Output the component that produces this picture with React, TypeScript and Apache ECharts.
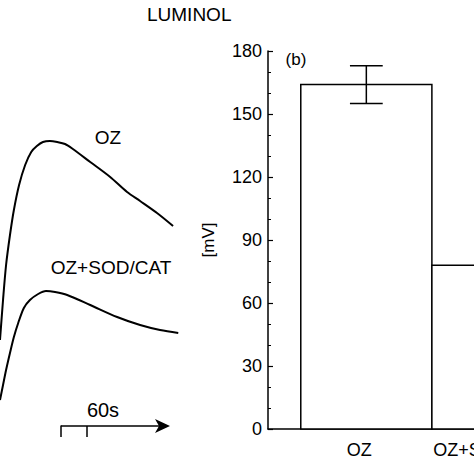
import React, { useEffect, useRef } from "react";
import * as echarts from "echarts";

// Bar panel (b)
const barCategories = ["OZ", "OZ+SOD/CAT"];
const barPositions = [1, 2];
const barValues = [164, 78];
const barErrors = [9, 6];
const yTicks = { min: 0, max: 180, step: 30 };

// Luminol traces (time in s, signal in arbitrary units)
const ozTime = [0, 7, 14, 23, 32, 44, 58, 72, 85, 99, 115, 132, 150, 168, 208, 254, 293, 323, 362, 399];
const ozSignal = [134, 174, 209, 239, 264, 289, 309, 322, 328, 332, 333, 332, 330, 325, 312, 297, 282, 273, 261, 248];
const sodTime = [0, 7, 14, 23, 32, 42, 55, 69, 88, 106, 127, 155, 208, 270, 323, 369, 411];
const sodSignal = [74, 89, 104, 121, 137, 151, 166, 174, 180, 183, 182, 179, 169, 157, 149, 144, 141];

const FONT = "'Liberation Sans', Arial, Helvetica, sans-serif";

export default function App() {
  const ref = useRef<HTMLDivElement>(null);
  useEffect(() => {
    if (!ref.current) return;
    const chart = echarts.init(ref.current, null, { renderer: "svg" });
    const barData = barPositions.map((x, i) => [x, barValues[i], barErrors[i]]);
    const labelMap: Record<string, string> = {};
    barPositions.forEach((p, i) => (labelMap[String(p)] = barCategories[i]));

    chart.setOption({
      animation: false,
      backgroundColor: "#fff",
      textStyle: { fontFamily: FONT, color: "#000" },
      grid: [
        { left: 268, top: 51, width: 295, height: 378, containLabel: false },
        { left: 0, top: 0, width: 180, height: 474, containLabel: false },
      ],
      xAxis: [
        {
          gridIndex: 0,
          type: "value",
          min: 0.25,
          max: 2.5,
          interval: 0.25,
          axisLine: { show: true, lineStyle: { color: "#000", width: 1.5 } },
          axisTick: { show: false },
          splitLine: { show: false },
          axisLabel: {
            color: "#000",
            fontSize: 18,
            fontFamily: FONT,
            margin: 12,
            padding: [0, 14, 0, 0],
            showMinLabel: true,
            showMaxLabel: true,
            formatter: (v: number) => labelMap[String(v)] || "",
          },
        },
        {
          gridIndex: 1,
          type: "value",
          min: 0,
          max: 415,
          show: false,
        },
      ],
      yAxis: [
        {
          gridIndex: 0,
          type: "value",
          min: yTicks.min,
          max: yTicks.max,
          interval: yTicks.step,
          name: "[mV]",
          nameLocation: "middle",
          nameRotate: 90,
          nameGap: 51,
          nameTextStyle: { fontSize: 17, color: "#000", fontFamily: FONT },
          axisLine: { show: true, lineStyle: { color: "#000", width: 1.5 } },
          axisTick: { show: true, inside: true, length: 5, lineStyle: { color: "#000", width: 1.2 } },
          minorTick: { show: true, splitNumber: 3, length: 3, lineStyle: { color: "#000", width: 1 } },
          splitLine: { show: false },
          axisLabel: { color: "#000", fontSize: 18, fontFamily: FONT, margin: 6 },
        },
        {
          gridIndex: 1,
          type: "value",
          min: 0,
          max: 474,
          show: false,
        },
      ],
      series: [
        {
          type: "custom",
          xAxisIndex: 0,
          yAxisIndex: 0,
          data: barData,
          clip: false,
          renderItem: (params: any, api: any) => {
            const x = api.value(0);
            const y = api.value(1);
            const e = api.value(2);
            const p0 = api.coord([x - 0.5, 0]);
            const p1 = api.coord([x + 0.5, y]);
            const top = api.coord([x, y + e]);
            const bot = api.coord([x, y - e]);
            const half = api.size([0.125, 0])[0];
            const stroke = { stroke: "#000", lineWidth: 1.5 };
            return {
              type: "group",
              children: [
                {
                  type: "rect",
                  shape: { x: p0[0], y: p1[1], width: p1[0] - p0[0], height: p0[1] - p1[1] },
                  style: { fill: "#fff", stroke: "#000", lineWidth: 1.5 },
                },
                { type: "line", shape: { x1: top[0], y1: top[1], x2: bot[0], y2: bot[1] }, style: stroke },
                { type: "line", shape: { x1: top[0] - half, y1: top[1], x2: top[0] + half, y2: top[1] }, style: stroke },
                { type: "line", shape: { x1: bot[0] - half, y1: bot[1], x2: bot[0] + half, y2: bot[1] }, style: stroke },
              ],
            };
          },
        },
        {
          type: "line",
          name: "OZ",
          xAxisIndex: 1,
          yAxisIndex: 1,
          data: ozTime.map((t, i) => [t, ozSignal[i]]),
          smooth: 0.3,
          showSymbol: false,
          lineStyle: { color: "#000", width: 2 },
        },
        {
          type: "line",
          name: "OZ+SOD/CAT",
          xAxisIndex: 1,
          yAxisIndex: 1,
          data: sodTime.map((t, i) => [t, sodSignal[i]]),
          smooth: 0.3,
          showSymbol: false,
          lineStyle: { color: "#000", width: 2 },
        },
      ],
      graphic: [
        { type: "text", left: 147, top: 5, style: { text: "LUMINOL", font: `19px ${FONT}`, fill: "#000" } },
        { type: "text", x: 108, y: 137, style: { text: "OZ", font: `19px ${FONT}`, fill: "#000", textAlign: "center", textVerticalAlign: "middle" } },
        { type: "text", x: 111, y: 267, style: { text: "OZ+SOD/CAT", font: `19px ${FONT}`, fill: "#000", textAlign: "center", textVerticalAlign: "middle" } },
        { type: "text", x: 296, y: 59, style: { text: "(b)", font: `17px ${FONT}`, fill: "#000", textAlign: "center", textVerticalAlign: "middle" } },
        { type: "text", x: 103, y: 410, style: { text: "60s", font: `20px ${FONT}`, fill: "#000", textAlign: "center", textVerticalAlign: "middle" } },
        { type: "line", shape: { x1: 61, y1: 426, x2: 162, y2: 426 }, style: { stroke: "#000", lineWidth: 1.5 } },
        { type: "line", shape: { x1: 61, y1: 425.5, x2: 61, y2: 437 }, style: { stroke: "#000", lineWidth: 1.5 } },
        { type: "line", shape: { x1: 87, y1: 426, x2: 87, y2: 437 }, style: { stroke: "#000", lineWidth: 1.5 } },
        { type: "polygon", shape: { points: [[170, 426], [155, 419], [159, 426], [155, 433]] }, style: { fill: "#000" } },
      ],
    });
    return () => chart.dispose();
  }, []);
  return (
    <div style={{ position: "absolute", left: 0, top: 0, width: 474, height: 474, overflow: "hidden", background: "#fff" }}>
      <div ref={ref} style={{ width: 640, height: 474 }} />
    </div>
  );
}
